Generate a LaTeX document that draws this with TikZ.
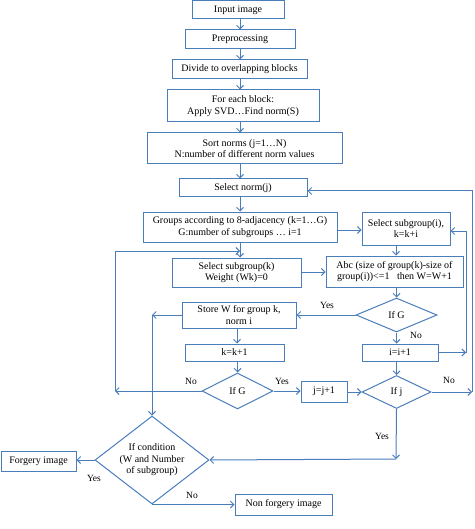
\documentclass[tikz,border=0pt]{standalone}
\usepackage{fontspec}
\setmainfont{Liberation Serif}
\usetikzlibrary{arrows.meta,shapes.geometric}
\definecolor{fb}{RGB}{74,126,187}
\begin{document}
\begin{tikzpicture}[x=1pt,y=-1pt,
  box/.style={draw=fb,line width=1pt,inner sep=0pt,align=center,font=\fontsize{10}{11.5}\selectfont},
  dia/.style={draw=fb,line width=1pt,shape=diamond,inner sep=0pt},
  txt/.style={align=center,inner sep=0pt,font=\fontsize{10}{11.5}\selectfont},
  lbl/.style={inner sep=0pt,font=\fontsize{9.5}{11}\selectfont},
  arr/.style={draw=fb,line width=1pt,-{Straight Barb[length=3.5pt,width=7pt]}},
  ln/.style={draw=fb,line width=1pt}]
\useasboundingbox (0,0) rectangle (474,529);
% boxes
\node[box,minimum width=92pt,minimum height=18pt] (inp) at (238,10) {Input image};
\node[box,minimum width=110pt,minimum height=19pt] (pre) at (240,39.5) {Preprocessing};
\node[box,minimum width=135pt,minimum height=19pt] (div) at (239.5,69.5) {Divide to overlapping blocks};
\node[box,minimum width=152pt,minimum height=32pt] (each) at (243,106) {For each block:\\Apply SVD…Find norm(S)};
\node[box,minimum width=195pt,minimum height=31pt] (sort) at (244.5,148.5) {Sort norms (j=1…N)\\N:number of different norm values};
\node[box,minimum width=128pt,minimum height=18pt] (sel) at (243,188) {Select norm(j)};
\node[box,minimum width=194pt,minimum height=30pt] (grp) at (240,227) {Groups according to 8-adjacency (k=1…G)\\G:number of subgroups … i=1};
\node[box,minimum width=88pt,minimum height=33pt] (subi) at (406,228.5) {Select subgroup(i),\\k=k+i};
\node[box,minimum width=129pt,minimum height=29pt] (subk) at (236.5,272.5) {Select subgroup(k)\\Weight (Wk)=0};
\node[box,minimum width=137pt,minimum height=31pt] (abc) at (394.5,271.5) {Abc (size of group(k)-size of\\group(i))<=1~~ then W=W+1};
\node[box,minimum width=114pt,minimum height=26pt] (store) at (239,315) {Store W for group k,\\norm i};
\node[box,minimum width=99pt,minimum height=17pt] (kk) at (234.5,352.5) {k=k+1};
\node[box,minimum width=76pt,minimum height=17pt] (ii) at (400,352.5) {i=i+1};
\node[box,minimum width=46pt,minimum height=21pt] (jj) at (324,391.5) {j=j+1};
\node[box,minimum width=75pt,minimum height=20pt] (forg) at (38.5,461) {Forgery image};
\node[box,minimum width=97pt,minimum height=21pt] (non) at (283.5,504.5) {Non forgery image};
% diamonds
\node[dia,minimum width=81pt,minimum height=34pt] (gU) at (396.5,315) {};
\node[txt] at (gU) {If G};
\node[dia,minimum width=71pt,minimum height=36pt] (gL) at (237.5,391) {};
\node[txt] at (gL) {If G};
\node[dia,minimum width=69pt,minimum height=33pt] (dj) at (396.5,392) {};
\node[txt] at (dj) {If j};
\node[dia,minimum width=114pt,minimum height=88pt] (cond) at (152,460) {};
\node[txt] at (cond) {If condition\\(W and Number\\of subgroup)};
% coordinates
\coordinate (cL1) at (152,315);
\coordinate (cL2) at (115,391);
\coordinate (cL3) at (115,251);
\coordinate (cL4) at (240,251);
\coordinate (cR1) at (466,352.5);
\coordinate (cR2) at (466,231);
\coordinate (cR3) at (472,392);
\coordinate (cR4) at (472,191);
\coordinate (cY) at (396,459);
% main chain
\draw[arr] (inp.south -| 240,0) -- (pre.north -| 240,0);
\draw[arr] (pre.south -| 240,0) -- (div.north -| 240,0);
\draw[arr] (div.south -| 240,0) -- (each.north -| 240,0);
\draw[arr] (each.south -| 240,0) -- (sort.north -| 240,0);
\draw[arr] (sort.south -| 240,0) -- (sel.north -| 240,0);
\draw[arr] (sel.south -| 240,0) -- (grp.north -| 240,0);
\draw[arr] (grp.south -| 240,0) -- (subk.north -| 240,0);
\draw[arr] (grp.east |- 0,230) -- (subi.west |- 0,230);
\draw[arr] (subi.south -| 396,0) -- (abc.north -| 396,0);
\draw[arr] (subk.east |- 0,272) -- (abc.west |- 0,272);
\draw[arr] (abc.south -| gU.north) -- (gU.north);
\draw[arr] (gU.west) -- (store.east |- gU.west);
\draw[arr] (gU.south) -- (ii.north -| gU.south);
\draw[arr] (store.west) -- (cL1);
\draw[arr] (cL1) -- (cond.north);
\draw[arr] (store.south -| 237,0) -- (kk.north -| 237,0);
\draw[arr] (kk.south -| gL.north) -- (gL.north);
\draw[arr] (gL.west) -- (cL2);
\draw[arr] (cL2) -- (cL3) -- (cL4);
\draw[arr] (gL.east) -- (jj.west |- gL.east);
\draw[arr] (jj.east |- dj.west) -- (dj.west);
\draw[arr] (ii.south -| dj.north) -- (dj.north);
\draw[arr] (ii.east) -- (cR1);
\draw[arr] (cR1) -- (cR2) -- (subi.east |- cR2);
\draw[arr] (dj.east) -- (cR3);
\draw[arr] (cR3) -- (cR4) -- (sel.east |- cR4);
\draw[arr] (dj.south) -- (cY);
\draw[arr] (cY) -- (cond.east);
\draw[arr] (cond.west) -- (forg.east |- cond.west);
\draw[arr] (cond.south) -- (non.west |- cond.south);
% labels
\node[lbl] at (327,305) {Yes};
\node[lbl] at (416,335) {No};
\node[lbl] at (191,381) {No};
\node[lbl] at (282,381) {Yes};
\node[lbl] at (449,380) {No};
\node[lbl] at (382,436) {Yes};
\node[lbl] at (94,478) {Yes};
\node[lbl] at (192,495) {No};
\end{tikzpicture}
\end{document}
